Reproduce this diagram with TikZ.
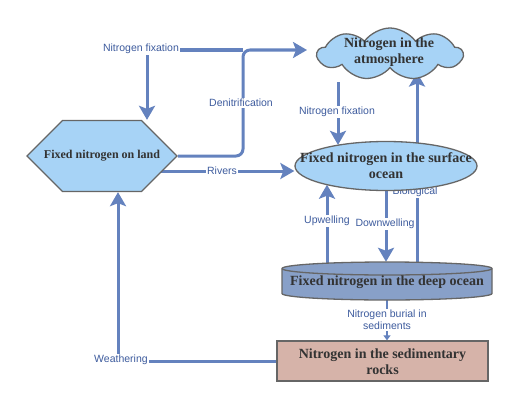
\documentclass[tikz,border=0pt]{standalone}
\usepackage{fontspec}
\setmainfont{Liberation Serif}
\newfontfamily\lblfont{Liberation Sans}
\usetikzlibrary{shapes.geometric,shapes.symbols,arrows.meta,calc}
\pgfdeclarelayer{bg}
\pgfsetlayers{bg,main}
\definecolor{arrc}{HTML}{6482BE}
\definecolor{lblc}{HTML}{3E5C9E}
\definecolor{bordc}{HTML}{666666}
\definecolor{txtc}{HTML}{333333}
\definecolor{lb}{HTML}{A7D3F6}
\definecolor{cylc}{HTML}{88A0C8}
\definecolor{rockc}{HTML}{D6B3A9}
\begin{document}
\begin{tikzpicture}[x=1pt,y=-1pt,
  shapebox/.style={draw=bordc, line width=1.3pt, inner sep=0pt},
  txt/.style={text=txtc, font=\bfseries\fontsize{14}{16}\selectfont, align=center, inner sep=0pt},
  flow/.style={draw=arrc, line width=3pt, -{Stealth[length=14pt,width=16pt,inset=3pt]}},
  thinflow/.style={draw=arrc, line width=2pt, -{Triangle[length=5pt,width=7pt]}},
  lbl/.style={fill=white, text=lblc, font=\lblfont\fontsize{10.5}{12}\selectfont, inner sep=1pt, align=center}]
\useasboundingbox (0,0) rectangle (521,404);

% nodes
\node[shapebox, cloud, cloud puffs=9, cloud puff arc=110, cloud ignores aspect, fill=lb, minimum width=145pt, minimum height=52pt] (atm) at (390,54) {};
\node[txt] (atmT) at (389,52) {Nitrogen in the\\atmosphere};

\node[shapebox, signal, signal to=west and east, signal pointer angle=90, fill=lb, minimum width=150pt, minimum height=71pt] (land) at (102,156) {};
\node[txt, font=\bfseries\fontsize{12}{14}\selectfont] (landT) at (102,156) {Fixed nitrogen on land};

\node[shapebox, ellipse, fill=lb, minimum width=182pt, minimum height=49pt] (surf) at (386,166) {};
\node[txt] (surfT) at (386,166) {Fixed nitrogen in the surface\\ocean};

% deep ocean cylinder
\node[inner sep=0pt, minimum width=210pt, minimum height=38pt] (deep) at (387,281) {};
\filldraw[fill=cylc, draw=bordc, line width=1.3pt]
  (282,268.5) -- (282,293.5) arc[start angle=180, end angle=360, x radius=105pt, y radius=6.5pt]
  -- (492,268.5) arc[start angle=0, end angle=180, x radius=105pt, y radius=6.5pt] -- cycle;
\draw[draw=bordc, line width=1.3pt] (282,268.5) arc[start angle=180, end angle=360, x radius=105pt, y radius=6.5pt];
\node[txt] (deepT) at (387,282) {Fixed nitrogen in the deep ocean};

\node[shapebox, fill=rockc, minimum width=211pt, minimum height=40pt] (sed) at (382.5,361) {};
\node[txt] (sedT) at (382.5,362) {Nitrogen in the sedimentary\\rocks};

\begin{pgfonlayer}{bg}
\coordinate (j) at (243,50);
\coordinate (dtip) at (307,50);
\coordinate (nf) at ($(atm.center)+(-52,28)$);
\coordinate (bio) at ($(deep.center)+(30,0)$);
\coordinate (up) at ($(deep.center)+(-60,0)$);
\coordinate (riv) at ($(land.center)+(0,15)$);

\draw[flow, rounded corners=7pt] (land.east) -| (j) -- (dtip);
\node[lbl] (lden) at (241,103) {Denitrification};

\draw[flow] (j) -| ([xshift=45pt]land.north);
\node[lbl] (lfix1) at (141,49) {Nitrogen fixation};

\draw[flow] (riv) -- (riv -| surf.west);
\node[lbl] (lriv) at (222,171) {Rivers};

\draw[flow] (nf) -- (nf |- surf.157);
\node[lbl] (lfix2) at (337,112) {Nitrogen fixation};

\draw[flow, shorten >=4pt] (bio) -- (bio |- atm.south);
\node[lbl] (lbio) at (415,192) {Biological};

\draw[flow] (up) -- (up |- surf.197);
\node[lbl] (lup) at (327,221) {Upwelling};

\draw[flow] (surf.south) -- (surf.south |- deep.north);
\node[lbl] (ldown) at (385,224) {Downwelling};

\draw[thinflow] (deep.south) -- (deep.south |- sed.north);
\node[lbl] (lbur) at (387,320) {Nitrogen burial in\\sediments};

\draw[flow] (sed.west) -| ([xshift=16pt]land.south);
\node[lbl] (lwea) at (121,360) {Weathering};
\end{pgfonlayer}
\end{tikzpicture}
\end{document}
